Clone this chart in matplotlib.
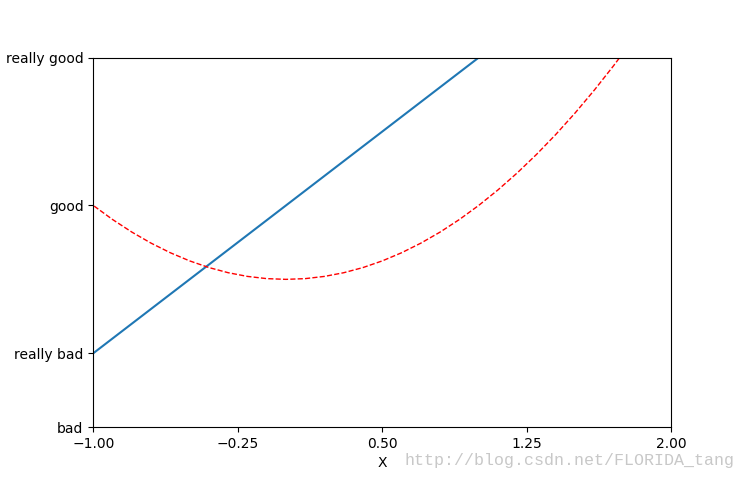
import matplotlib
matplotlib.use('Agg')
import matplotlib.pyplot as plt

# straight line y1 (two end points)
x1 = [-3.0, 3.0]
y1 = [-5.0, 7.0]

# dashed curve y2
x2 = [-1.2, -1.1, -1.0, -0.9, -0.8, -0.7, -0.6, -0.5, -0.4, -0.3, -0.2, -0.1,
      0.0, 0.1, 0.2, 0.3, 0.4, 0.5, 0.6, 0.7, 0.8, 0.9, 1.0, 1.1, 1.2, 1.3,
      1.4, 1.5, 1.6, 1.7, 1.8, 1.9]
y2 = [1.44, 1.21, 1.00, 0.81, 0.64, 0.49, 0.36, 0.25, 0.16, 0.09, 0.04, 0.01,
      0.00, 0.01, 0.04, 0.09, 0.16, 0.25, 0.36, 0.49, 0.64, 0.81, 1.00, 1.21,
      1.44, 1.69, 1.96, 2.25, 2.56, 2.89, 3.24, 3.61]

xticks = [-1.0, -0.25, 0.5, 1.25, 2.0]
yticks = [-2, -1, 1, 3]
ytick_labels = ['bad', 'really bad', 'good', 'really good']

fig = plt.figure(figsize=(7.46, 4.8), dpi=100)
ax = fig.add_subplot(111)

ax.plot(x1, y1)
ax.plot(x2, y2, color='red', linewidth=1.0, linestyle='--')

ax.set_xlim(-1, 2)
ax.set_ylim(-2, 3)
ax.set_xlabel('X')
ax.set_xticks(xticks)
ax.set_yticks(yticks)
ax.set_yticklabels(ytick_labels)

fig.text(0.985, 0.04, 'http://blog.csdn.net/FLORIDA_tang', ha='right', va='center',
         color='#c8c8c8', fontsize=12, family='Liberation Mono')

plt.savefig('out.png', dpi=100)
